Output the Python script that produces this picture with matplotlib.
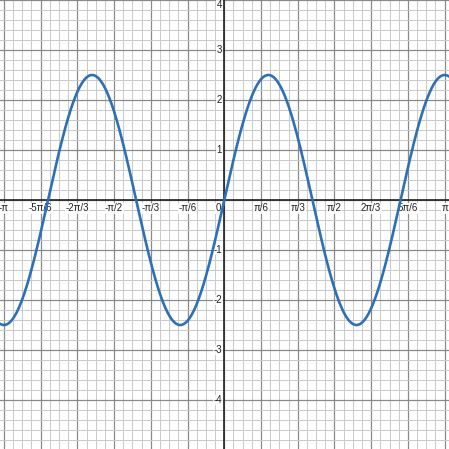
import numpy as np
import matplotlib
matplotlib.use("Agg")
import matplotlib.pyplot as plt

# ---- data ----
AMPLITUDE = 2.5          # peak height of the curve
FREQUENCY = 2.5          # angular frequency (period 0.8*pi)
x_tick_multiples = [-6, -5, -4, -3, -2, -1, 1, 2, 3, 4, 5, 6]   # multiples of pi/6
x_tick_labels = ["-π", "-5π/6", "-2π/3", "-π/2", "-π/3", "-π/6",
                 "π/6", "π/3", "π/2", "2π/3", "5π/6", "π"]
y_ticks = [-4, -3, -2, -1, 1, 2, 3, 4]
y_tick_labels = ["-4", "-3", "-2", "-1", "1", "2", "3", "4"]

XLIM = (-3.198, 3.204)
YLIM = (-4.98, 4.0)

plt.rcParams['font.family'] = ['Liberation Sans', 'DejaVu Sans']

fig = plt.figure(figsize=(4.49, 4.49), dpi=100)
ax = fig.add_axes([0, 0, 1, 1])
ax.set_xlim(*XLIM)
ax.set_ylim(*YLIM)
for s in ax.spines.values():
    s.set_visible(False)
ax.set_xticks([])
ax.set_yticks([])

# grid
step = np.pi / 6
for k in range(-30, 31):
    xv = k * step / 4
    if XLIM[0] <= xv <= XLIM[1]:
        major = (k % 4 == 0)
        ax.axvline(xv, color="#8a8a8a" if major else "#c9c9c9",
                   lw=0.9 if major else 0.7, zorder=0)
for k in range(-30, 31):
    yv = k * 0.2
    if YLIM[0] <= yv <= YLIM[1] + 1e-9:
        major = (k % 5 == 0)
        ax.axhline(yv, color="#8a8a8a" if major else "#c9c9c9",
                   lw=0.9 if major else 0.7, zorder=0)

# axes
ax.axhline(0, color="#222222", lw=1.2, zorder=1)
ax.axvline(0, color="#222222", lw=1.2, zorder=1)

# curve
xs = np.linspace(XLIM[0], XLIM[1], 2000)
ax.plot(xs, AMPLITUDE * np.sin(FREQUENCY * xs), color="#2d70b3", lw=1.9,
        zorder=3, solid_capstyle="round")

bbox = dict(boxstyle="square,pad=0.05", fc="white", ec="none", alpha=0.85)
for m, lab in zip(x_tick_multiples, x_tick_labels):
    ax.annotate(lab, xy=(m * step, 0), xytext=(0, -2.5), textcoords="offset points",
                ha="center", va="top", fontsize=7, color="#222222",
                bbox=bbox, zorder=2, annotation_clip=False)
ax.annotate("0", xy=(0, 0), xytext=(-4.5, -2.5), textcoords="offset points",
            ha="center", va="top", fontsize=7, color="#222222", bbox=bbox, zorder=2)
for v, lab in zip(y_ticks, y_tick_labels):
    yoff = 0
    if v == 4:
        yoff = -3.5
    ax.annotate(lab, xy=(0, v), xytext=(-1.6, yoff), textcoords="offset points",
                ha="right", va="center", fontsize=7, color="#222222",
                bbox=bbox, zorder=2)

fig.savefig("out.png", dpi=100)
